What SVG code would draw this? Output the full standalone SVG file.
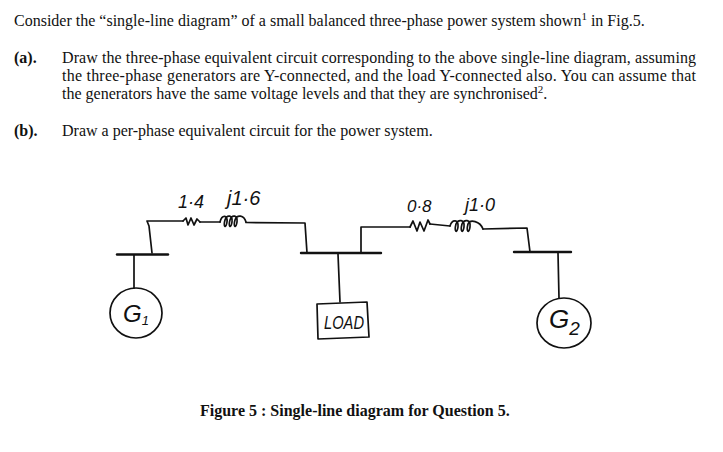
<svg xmlns="http://www.w3.org/2000/svg" width="723" height="452" viewBox="0 0 723 452">
<style>
text{font-family:"Liberation Serif","Times New Roman",serif;font-size:16px;fill:#111}
.b{font-weight:bold}
text.h{font-family:"Liberation Sans",Arial,sans-serif;font-style:italic;fill:#111}
.w{fill:none;stroke:#111;stroke-width:1.7;stroke-linejoin:round;stroke-linecap:round}
.bus{fill:none;stroke:#111;stroke-width:2.4;stroke-linecap:round}
.s{font-size:11px}
</style>
<rect width="723" height="452" fill="#fff"/>
<g id="question">
<text x="14" y="26">Consider the “single-line diagram” of a small balanced three-phase power system shown<tspan class="s" dy="-6">1</tspan><tspan dy="6"> in Fig.5.</tspan></text>
<text class="b" x="14" y="63">(a).</text>
<text x="62" y="63" textLength="634" lengthAdjust="spacing">Draw the three-phase equivalent circuit corresponding to the above single-line diagram, assuming</text>
<text x="62" y="81" textLength="634" lengthAdjust="spacing">the three-phase generators are Y-connected, and the load Y-connected also. You can assume that</text>
<text x="62" y="99">the generators have the same voltage levels and that they are synchronised<tspan class="s" dy="-6">2</tspan><tspan dy="6">.</tspan></text>
<text class="b" x="14" y="136">(b).</text>
<text x="62" y="136">Draw a per-phase equivalent circuit for the power system.</text>
<text class="b" x="200" y="416">Figure 5 : Single-line diagram for Question 5.</text>
</g>
<g id="connectors">
<path class="w" d="M152 253L149 226L147 221L183 221M200 222L220 222M246 222.500L305 223L307 253"/>
<path class="w" d="M183 221L186 218L188 225L191 218L194 225L197 219L200 222"/>
<path class="w" d="M220 222C222 214 228 215 227 222C226 229 223 227 225 220C227 214 233 215 232 222C231 229 228 227 230 220C232 214 238 215 237 222C236 229 233 227 235 220C237 214 244 215 246 222"/>
<path class="w" d="M361 252L361 227L410 227M430 224L450 226M483 229L527 228L530 252"/>
<path class="w" d="M410 227L413 221L417 231L420 222L424 231L428 220L430 224"/>
<path class="w" d="M450 226C452 219 459 219 458 227C457 234 454 232 456 224C458 219 465 219 464 227C463 234 460 232 462 224C464 219 471 219 470 227C469 234 466 232 468 224C470 219 480 221 483 229"/>
<path class="w" d="M134 255L134 288M338 254L340 302M558 253L559 298"/>
</g>
<g id="bus1"><path class="bus" d="M117 254.500L168 254.500"/></g>
<g id="bus2"><path class="bus" d="M301 253L381 253"/></g>
<g id="bus3"><path class="bus" d="M514 252L571 252"/></g>
<g id="resistor1"><text class="h" x="178" y="208" style="font-size:18px">1·4</text></g>
<g id="inductor1"><text class="h" x="227" y="205" style="font-size:20px">j1·6</text></g>
<g id="resistor2"><text class="h" x="407" y="212" style="font-size:17px">0·8</text></g>
<g id="inductor2"><text class="h" x="465" y="211" style="font-size:18px">j1·0</text></g>
<g id="g1">
<ellipse class="w" cx="136" cy="313" rx="26" ry="25"/>
<text class="h" x="123" y="322" style="font-size:24px">G<tspan style="font-size:13px" dy="3">1</tspan></text>
</g>
<g id="load">
<path class="w" d="M317 304L367 302L369 337L318 339Z"/>
<text class="h" x="324" y="329" textLength="40" lengthAdjust="spacingAndGlyphs" style="font-size:18px">LOAD</text>
</g>
<g id="g2">
<ellipse class="w" cx="564" cy="323" rx="27" ry="25"/>
<text class="h" x="549" y="328" style="font-size:26px">G<tspan style="font-size:19px" dy="7">2</tspan></text>
</g>
</svg>
